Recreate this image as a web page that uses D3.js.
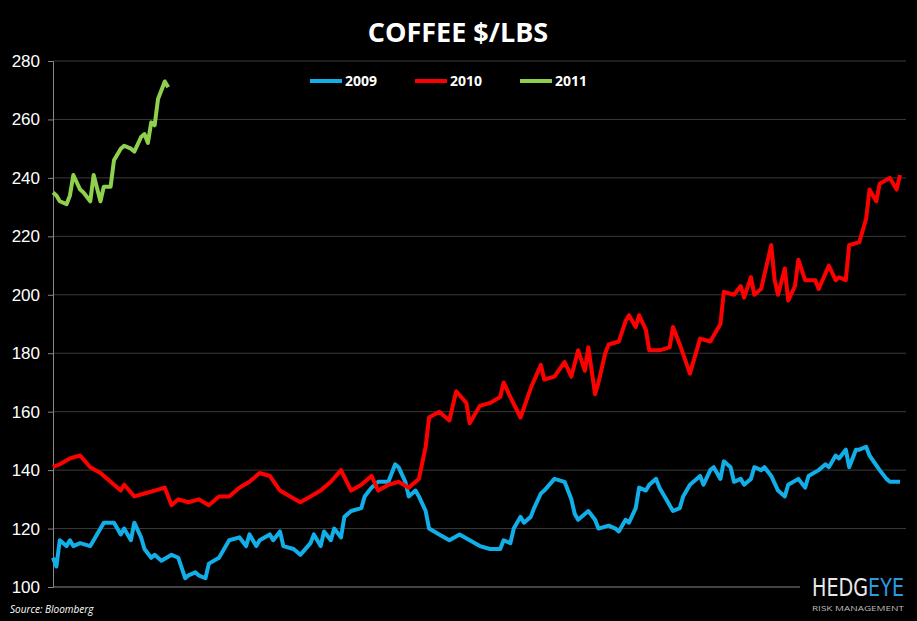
<!DOCTYPE html>
<html><head><meta charset="utf-8">
<script src="https://cdn.jsdelivr.net/npm/d3@7"></script>
<style>body{margin:0;background:#000}</style>
</head><body>
<script>
// trading day index within each year, and price in cents/lb
var days2009 = [0,1,2,4,5,6,8,11,12,14,15,17,18,20,21,23,24,26,27,29,30,32,35,37,39,40,42,43,45,46,49,52,55,57,58,60,61,64,65,67,68,71,73,76,77,79,80,82,83,85,86,88,91,92,94,96,99,101,102,104,105,107,108,110,111,114,117,120,123,126,129,132,133,135,136,138,139,141,142,144,145,148,151,153,154,155,158,160,161,164,166,167,169,170,172,173,175,176,178,179,181,182,183,185,186,188,191,192,194,195,197,198,200,201,203,204,206,207,209,210,212,214,216,217,220,222,223,226,228,229,231,232,234,235,237,238,240,241,244,246,247,250];
var vals2009 = [110,107,116,114,116,114,115,114,116,120,122,122,122,118,120,116,122,117,113,110,111,109,111,110,103,104,105,104,103,108,110,116,117,114,118,114,116,118,116,119,114,113,111,115,118,114,119,116,120,117,124,126,127,131,134,136,136,142,141,136,131,133,131,126,120,118,116,118,116,114,113,113,116,115,120,124,122,124,127,132,133,137,136,130,125,123,126,123,120,121,120,119,123,122,127,134,133,135,137,134,130,128,126,127,131,135,138,135,140,141,137,143,141,136,137,135,137,141,140,141,138,133,131,135,137,134,138,140,142,141,145,144,147,141,147,147,148,145,140,137,136,136];
var days2010 = [0,2,5,8,11,14,17,20,21,24,27,30,33,35,37,40,43,46,49,52,55,58,61,64,67,70,73,76,79,82,85,88,91,94,96,99,102,105,108,110,111,114,117,119,122,123,126,129,132,133,135,138,141,144,145,148,151,153,155,157,158,160,161,163,164,167,169,170,172,173,175,176,179,182,183,185,188,191,194,197,198,201,203,204,206,207,209,212,213,214,216,217,219,220,222,225,226,229,231,232,234,235,238,240,241,243,244,247,249,250];
var vals2010 = [141,142,144,145,141,139,136,133,135,131,132,133,134,128,130,129,130,128,131,131,134,136,139,138,133,131,129,131,133,136,140,133,135,138,133,135,136,134,137,148,158,160,157,167,163,156,162,163,165,170,165,158,168,176,171,172,177,172,181,174,182,166,170,180,183,184,191,193,189,193,188,181,181,182,189,183,173,185,184,190,201,200,203,199,206,200,202,217,205,200,209,198,203,212,205,205,202,210,205,206,205,217,218,226,236,232,238,240,236,241];
var days2011 = [0,1,2,4,5,6,8,9,11,12,14,15,17,18,20,21,23,24,26,27,28,29,30,31,33,34];
var vals2011 = [235,234,232,231,234,241,236,235,232,241,232,237,237,246,250,251,250,249,254,255,252,259,258,267,273,271];
var yTicks = [100,120,140,160,180,200,220,240,260,280];
var seriesNames = ["2009","2010","2011"];
var seriesColors = ["#11aee8","#ff0000","#8fd14f"];

var width = 917, height = 621;
var svg = d3.select('body').append('svg')
  .attr('width', width).attr('height', height)
  .style('background', '#000')
  .style('font-family', 'Open Sans, sans-serif');

var x = d3.scaleLinear().domain([0, 250]).range([53, 900]);
var y = d3.scaleLinear().domain([100, 280]).range([587, 61]);

// gridlines
svg.append('g').selectAll('line').data(yTicks.slice(1)).enter().append('line')
  .attr('x1', 53).attr('x2', 906)
  .attr('y1', function(d){ return y(d); }).attr('y2', function(d){ return y(d); })
  .attr('stroke', '#3a3a3a');

var yAxis = svg.append('g').attr('transform', 'translate(53,0)')
  .call(d3.axisLeft(y).tickValues(yTicks).tickSize(5).tickPadding(8));
yAxis.select('.domain').attr('stroke', '#888');
yAxis.selectAll('.tick line').attr('stroke', '#888');
yAxis.selectAll('text').attr('fill', '#fff').style('font-size', '17px');

svg.append('line').attr('x1', 53).attr('x2', 800).attr('y1', y(100)).attr('y2', y(100)).attr('stroke', '#888');

var line = d3.line().x(function(d){ return x(d[0]); }).y(function(d){ return y(d[1]); });
var series = [d3.zip(days2009, vals2009), d3.zip(days2010, vals2010), d3.zip(days2011, vals2011)];
svg.append('g').selectAll('path').data(series).enter().append('path')
  .attr('d', line)
  .attr('fill', 'none')
  .attr('stroke', function(d, i){ return seriesColors[i]; })
  .attr('stroke-width', 4)
  .attr('stroke-linejoin', 'round');

// title
svg.append('text').attr('x', 458).attr('y', 42).attr('text-anchor', 'middle')
  .attr('fill', '#fff').style('font-size', '27px').style('font-weight', 'bold')
  .text('COFFEE $/LBS');

// legend
var leg = svg.append('g').selectAll('g').data(seriesNames).enter().append('g')
  .attr('transform', function(d, i){ return 'translate(' + (310 + i * 105) + ',81)'; });
leg.append('line').attr('x1', 0).attr('x2', 32).attr('stroke-width', 4)
  .attr('stroke', function(d, i){ return seriesColors[i]; });
leg.append('text').attr('x', 35).attr('y', 5).attr('fill', '#fff')
  .style('font-size', '14px').style('font-weight', 'bold').text(function(d){ return d; });

// source
svg.append('text').attr('x', 10).attr('y', 613).attr('fill', '#fff')
  .style('font-size', '10px').style('font-style', 'italic').text('Source: Bloomberg');

// logo
var logo = svg.append('text').attr('x', 812).attr('y', 596)
  .attr('textLength', 92).attr('lengthAdjust', 'spacingAndGlyphs')
  .style('font-size', '25px').style('font-family', 'DejaVu Sans Condensed, sans-serif');
logo.append('tspan').attr('fill', '#e8e8e8').text('HEDG');
logo.append('tspan').attr('fill', '#2a9be0').text('EYE');
svg.append('text').attr('x', 812).attr('y', 611).attr('fill', '#bbb')
  .attr('textLength', 92).attr('lengthAdjust', 'spacingAndGlyphs')
  .style('font-size', '7.5px').text('RISK MANAGEMENT');
</script>
</body></html>
